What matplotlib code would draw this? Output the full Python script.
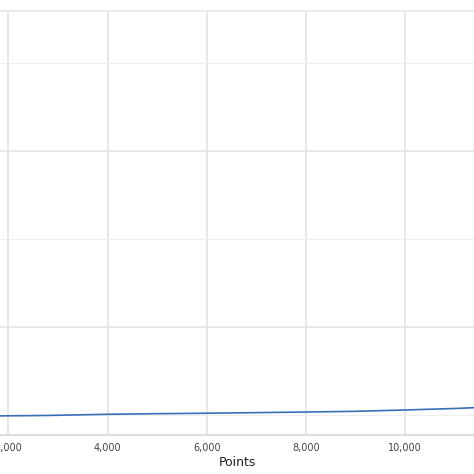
import matplotlib.pyplot as plt
import numpy as np

# Data (y in grid units, gridlines at 0..4)
points = [1830, 2800, 4000, 5000, 6000, 7000, 8000, 9000, 10000, 11000, 11390]
values = [-0.01, -0.005, 0.008, 0.015, 0.02, 0.027, 0.034, 0.042, 0.057, 0.074, 0.083]
x_ticks = [2000, 4000, 6000, 8000, 10000]

fig = plt.figure(figsize=(4.74, 4.74), dpi=100)
ax = fig.add_axes([0, 1 - 435 / 474, 1, (435 - 11) / 474])

ax.plot(points, values, color='#3a6fb5', linewidth=1.2)

ax.set_xlim(1830, 11390)
ax.set_ylim((415 - 435) / 88, (415 - 11) / 88)
ax.set_xticks(x_ticks)
ax.set_xticklabels(["{:,}".format(t) for t in x_ticks], fontsize=7, color='#444444')
ax.set_yticks([1, 3])
ax.set_yticks([0, 2, 4], minor=True)
ax.tick_params(axis='both', which='both', length=0, labelleft=False)
ax.tick_params(axis='x', pad=6)

ax.grid(True, which='major', color='#e3e3e3', linewidth=1.2)
ax.grid(True, which='minor', axis='y', color='#efefef', linewidth=0.8)
ax.xaxis.grid(True, color='#e3e3e3', linewidth=1.2)

for side in ['left', 'right']:
    ax.spines[side].set_visible(False)
ax.spines['bottom'].set_color('#dddddd')
ax.spines['bottom'].set_linewidth(1.5)
ax.spines['top'].set_color('#e8e8e8')
ax.spines['top'].set_linewidth(1.2)

ax.set_xlabel("Points", fontsize=9, color='#222222', labelpad=2)

fig.savefig("out.png", dpi=100)
